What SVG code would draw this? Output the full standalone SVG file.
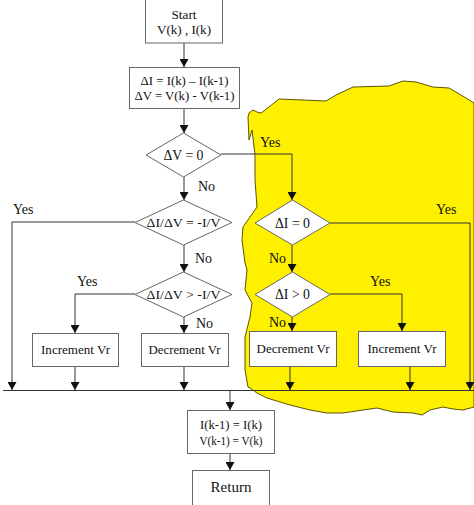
<svg xmlns="http://www.w3.org/2000/svg" width="474" height="505" viewBox="0 0 474 505">
<style>
.box{fill:#fff;stroke:#666;stroke-width:1}
.dia{fill:#fff;stroke:#666;stroke-width:1}
.ln{fill:none;stroke:#333;stroke-width:1}
text{font-family:"Liberation Serif","Times New Roman",serif;fill:#111}
.t12{font-size:13px;text-anchor:middle}
.t13{font-size:13.5px;text-anchor:middle}
.t14{font-size:14px;text-anchor:middle}
.lbl{font-size:14px}
</style>
<defs>
<marker id="ah" markerWidth="8" markerHeight="9" refX="8" refY="4.5" orient="auto" markerUnits="userSpaceOnUse">
<path d="M0,0 L8,4.5 L0,9 Z" fill="#111"/>
</marker>
</defs>
<rect width="474" height="505" fill="#fff"/>
<path id="highlight" d="M249,140 L248,117 L249,113 L253,110 L257,112 L261,113 L269,107 L279,99 L326,101 L336,95 L353,87 L389,86 L403,81 L416,82 L433,87 L449,88 L466,98 L474,103 L474,407 L463,410 L453,409 L443,407 L430,410 L422,415 L413,413 L393,412 L377,408 L363,410 L343,413 L327,413 L310,410 L290,405 L280,402 L267,398 L257,393 L250,388 L248,387 L245,370 L245,337 L250,317 L252,303 L245,290 L247,270 L245,263 L242,240 L243,227 L257,207 L255,180 L255,155 L252,130 Z" fill="#FFF000" stroke="#5a5400" stroke-width="1" stroke-linejoin="round"/>
<g id="connectors">
<path class="ln" d="M184,43 V67" marker-end="url(#ah)"/>
<path class="ln" d="M184,108 V133" marker-end="url(#ah)"/>
<path class="ln" d="M184,177 V200" marker-end="url(#ah)"/>
<path class="ln" d="M184,245 V272" marker-end="url(#ah)"/>
<path class="ln" d="M184,317 V333" marker-end="url(#ah)"/>
<path class="ln" d="M221,154 H292 V200" marker-end="url(#ah)"/>
<path class="ln" d="M135,222 H12 V390" marker-end="url(#ah)"/>
<path class="ln" d="M135,294 H75 V333" marker-end="url(#ah)"/>
<path class="ln" d="M75,366 V390" marker-end="url(#ah)"/>
<path class="ln" d="M184,366 V390" marker-end="url(#ah)"/>
<path class="ln" d="M3,390.5 H474"/>
<path class="ln" d="M230,390 V410" marker-end="url(#ah)"/>
<path class="ln" d="M230,453 V470" marker-end="url(#ah)"/>
<path class="ln" d="M292,245 V272" marker-end="url(#ah)"/>
<path class="ln" d="M292,317 V331" marker-end="url(#ah)"/>
<path class="ln" d="M330,294 H402 V331" marker-end="url(#ah)"/>
<path class="ln" d="M330,223 H470 V390" marker-end="url(#ah)"/>
<path class="ln" d="M290,366 V390" marker-end="url(#ah)"/>
<path class="ln" d="M410,366 V390" marker-end="url(#ah)"/>
</g>
<g id="labels">
<text class="lbl" x="198" y="191">No</text>
<text class="lbl" x="13" y="214">Yes</text>
<text class="lbl" x="195" y="263">No</text>
<text class="lbl" x="77" y="286">Yes</text>
<text class="lbl" x="196" y="328">No</text>
<text class="lbl" x="260" y="147">Yes</text>
<text class="lbl" x="436" y="214">Yes</text>
<text class="lbl" x="269" y="263">No</text>
<text class="lbl" x="370" y="286">Yes</text>
<text class="lbl" x="269" y="327">No</text>
</g>
<g id="start">
<rect class="box" x="145.5" y="-1" width="77" height="44"/>
<text class="t13" x="184" y="19" textLength="25" lengthAdjust="spacingAndGlyphs">Start</text>
<text class="t13" x="184" y="34" textLength="54" lengthAdjust="spacingAndGlyphs">V(k) , I(k)</text>
</g>
<g id="delta">
<rect class="box" x="129.5" y="67.5" width="110" height="41"/>
<text class="t12" x="184.5" y="85" textLength="88" lengthAdjust="spacingAndGlyphs">ΔI = I(k) – I(k-1)</text>
<text class="t12" x="184.5" y="100" textLength="100" lengthAdjust="spacingAndGlyphs">ΔV = V(k) - V(k-1)</text>
</g>
<g id="dv0">
<polygon class="dia" points="183.5,133 221,155 183.5,177 146,155"/>
<text class="t14" x="183.5" y="160" textLength="40" lengthAdjust="spacingAndGlyphs">ΔV = 0</text>
</g>
<g id="eq">
<polygon class="dia" points="183.5,200 232,222.5 183.5,245 135,222.5"/>
<text class="t13" x="183.5" y="227" textLength="74" lengthAdjust="spacingAndGlyphs">ΔI/ΔV = -I/V</text>
</g>
<g id="gt">
<polygon class="dia" points="183.5,272 232,294.5 183.5,317 135,294.5"/>
<text class="t13" x="183.5" y="299" textLength="74" lengthAdjust="spacingAndGlyphs">ΔI/ΔV &gt; -I/V</text>
</g>
<g id="inc1">
<rect class="box" x="32.5" y="333.5" width="86" height="33"/>
<text class="t12" x="75.5" y="354" textLength="69" lengthAdjust="spacingAndGlyphs">Increment Vr</text>
</g>
<g id="dec1">
<rect class="box" x="141.5" y="333.5" width="87" height="33"/>
<text class="t12" x="184.5" y="354" textLength="72" lengthAdjust="spacingAndGlyphs">Decrement Vr</text>
</g>
<g id="di0">
<polygon class="dia" points="292.5,200 330,223 292.5,245 255,223"/>
<text class="t14" x="292.5" y="228" textLength="35" lengthAdjust="spacingAndGlyphs">ΔI = 0</text>
</g>
<g id="digt">
<polygon class="dia" points="292.5,272 330,294.5 292.5,317 255,294.5"/>
<text class="t14" x="292.5" y="299" textLength="35" lengthAdjust="spacingAndGlyphs">ΔI &gt; 0</text>
</g>
<g id="dec2">
<rect class="box" x="249.5" y="331.5" width="87" height="35"/>
<text class="t12" x="293" y="353" textLength="73" lengthAdjust="spacingAndGlyphs">Decrement Vr</text>
</g>
<g id="inc2">
<rect class="box" x="358.5" y="331.5" width="87" height="35"/>
<text class="t12" x="402" y="353" textLength="69" lengthAdjust="spacingAndGlyphs">Increment Vr</text>
</g>
<g id="update">
<rect class="box" x="187.5" y="410.5" width="87" height="43"/>
<text class="t12" x="231" y="429" textLength="62" lengthAdjust="spacingAndGlyphs">I(k-1) = I(k)</text>
<text class="t12" x="231" y="445" textLength="63" lengthAdjust="spacingAndGlyphs">V(k-1) = V(k)</text>
</g>
<g id="return">
<rect class="box" x="192.5" y="470.5" width="77" height="36"/>
<text class="t14" x="231" y="492" style="font-size:15px">Return</text>
</g>
</svg>
